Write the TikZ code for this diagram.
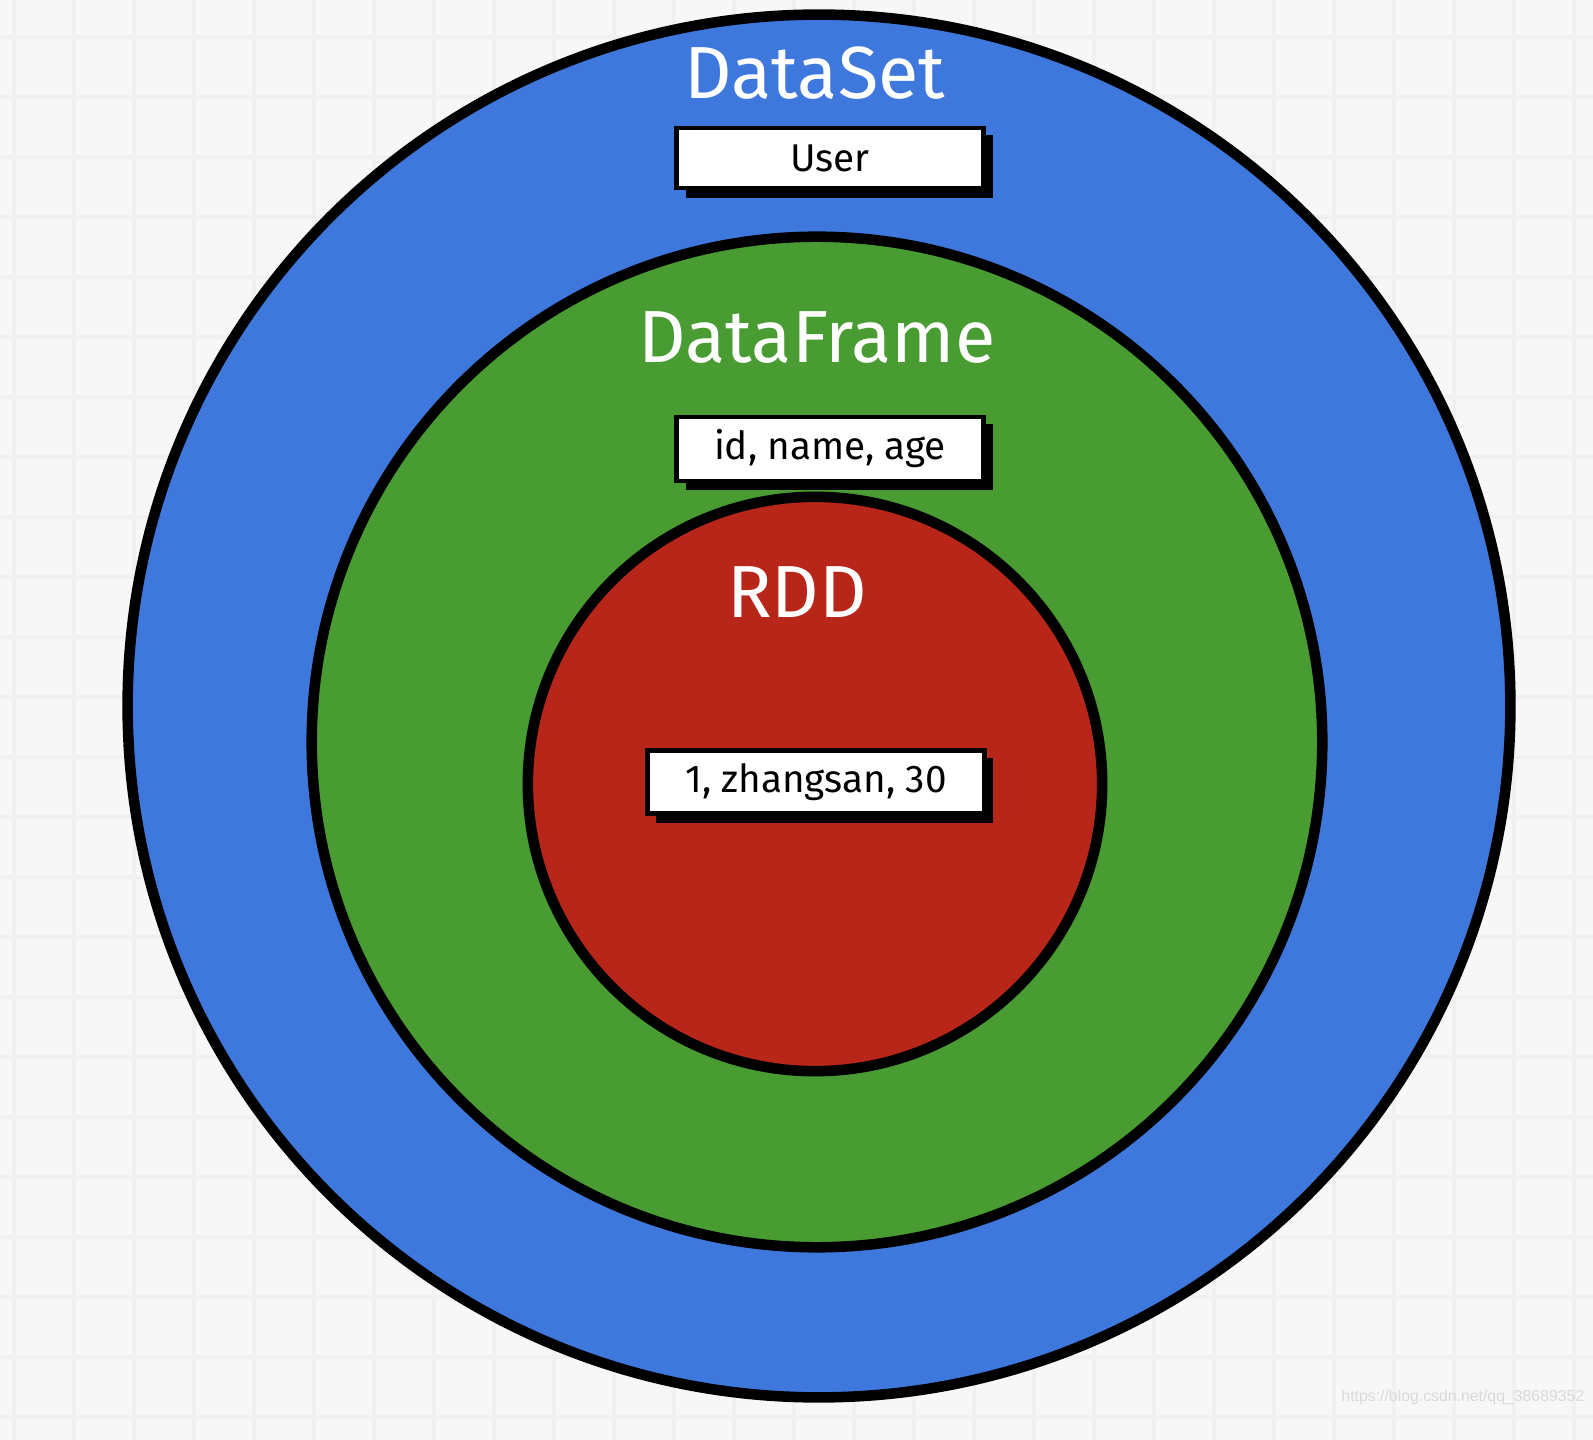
\documentclass[tikz,border=0pt]{standalone}
\usepackage{fontspec}
\setmainfont{Fira Sans}
\newfontfamily\wmfont{Liberation Sans}
\begin{document}
\begin{tikzpicture}[x=0.01cm,y=-0.01cm,
  ring/.style={draw=black,line width=3pt},
  lbl/.style={text=white,font=\fontsize{21}{24}\selectfont},
  box/.style={draw=black,line width=1.2pt,fill=white,inner sep=0pt,font=\fontsize{11}{13}\selectfont,
    minimum height=0.6cm}]
\fill[white!97!black] (0,0) rectangle (1593,1440);
\useasboundingbox (0,0) rectangle (1593,1440);
\foreach \x in {14,74,...,1593} \draw[white!94!black,line width=1.2pt] (\x,0) -- (\x,1440);
\foreach \y in {37,97,...,1440} \draw[white!94!black,line width=1.2pt] (0,\y) -- (1593,\y);
\node[ring,circle,fill={rgb,255:red,62;green,120;blue,220},minimum size=13.82cm] (ds) at (819,706) {};
\node[ring,circle,fill={rgb,255:red,72;green,156;blue,50},minimum size=10.1cm] (df) at (817,742) {};
\node[ring,circle,fill={rgb,255:red,184;green,38;blue,26},minimum size=5.74cm] (rdd) at (815,784) {};
\node[lbl] (tds) at (815,73) {DataSet};
\node[lbl] (tdf) at (817,338) {DataFrame};
\node[lbl] (trdd) at (797,592) {RDD};
\fill[black] (686,135) rectangle (993,198);
\node[box,minimum width=3.07cm] (u) at (830,158) {User};
\fill[black] (686,424) rectangle (993,490);
\node[box,minimum width=3.07cm,minimum height=0.64cm] (i) at (830,449) {id, name, age};
\fill[black] (656,758) rectangle (993,823);
\node[box,minimum width=3.37cm,minimum height=0.63cm] (z) at (816,782) {1, zhangsan, 30};
\node[anchor=east,inner sep=0pt,text=white!85!black,font=\fontsize{4.5}{5}\wmfont] (wm) at (1585,1397) {https://blog.csdn.net/qq\_38689352};
\end{tikzpicture}
\end{document}
